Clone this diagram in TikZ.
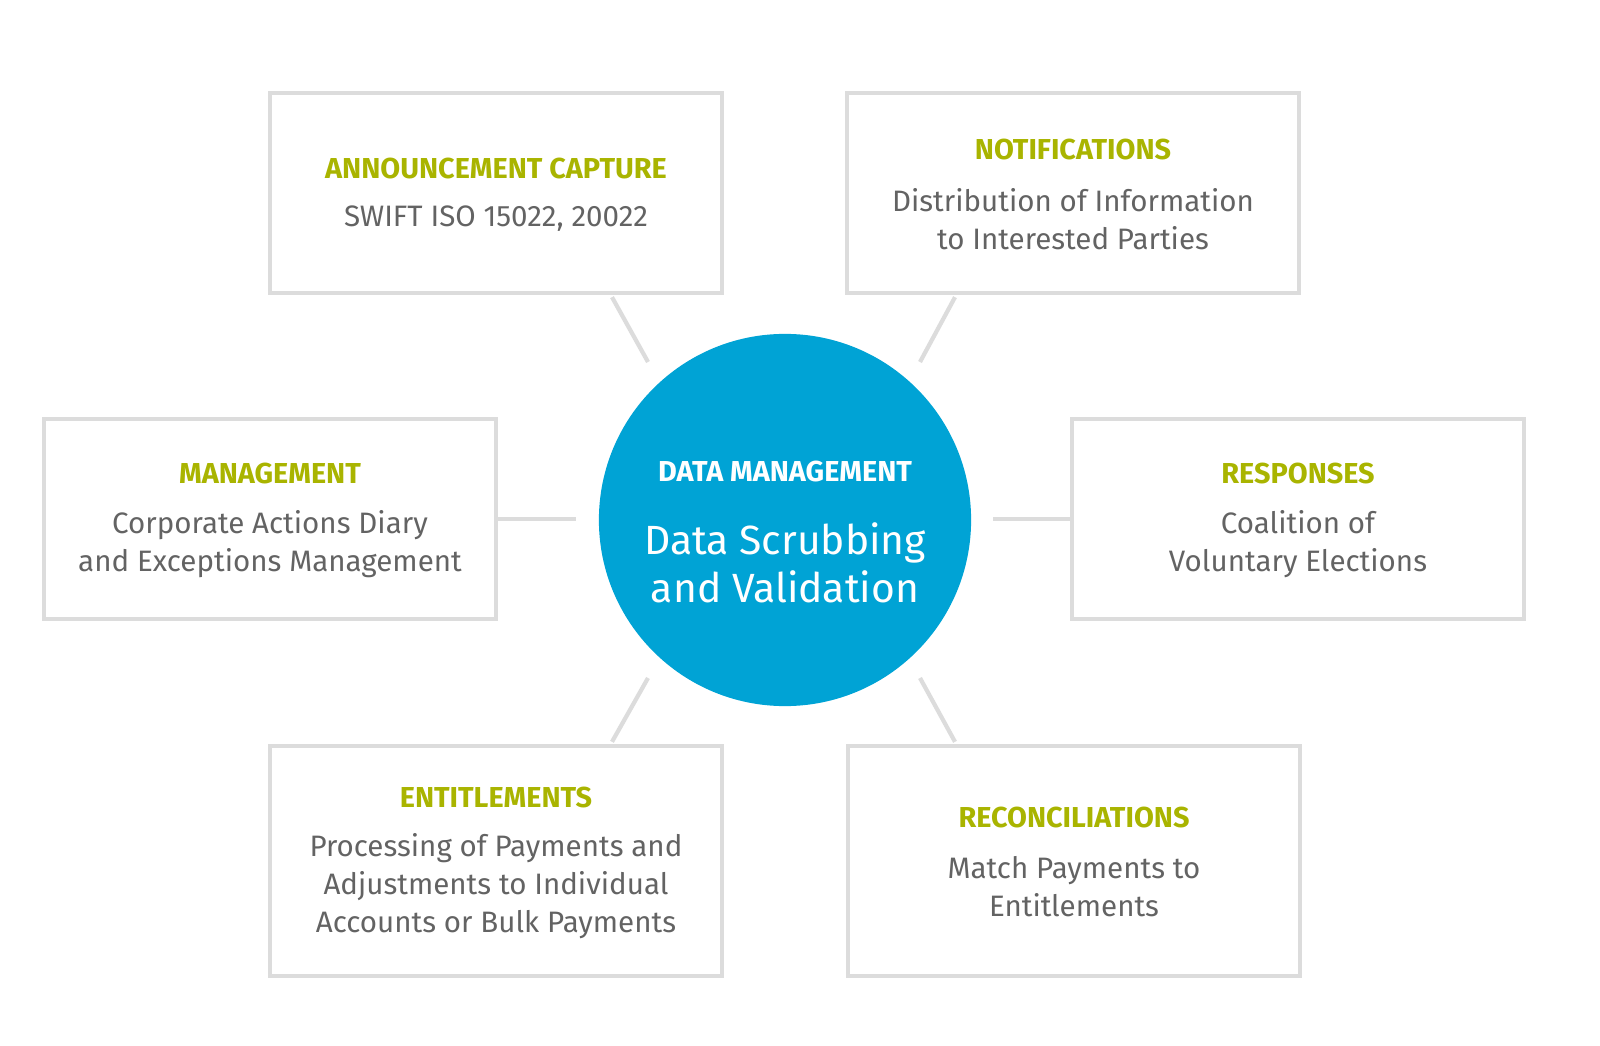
\documentclass[tikz,border=0pt]{standalone}
\usepackage{fontspec}
\setmainfont{Fira Sans}
\definecolor{headgreen}{HTML}{A9B400}
\definecolor{hubblue}{HTML}{00A3D5}
\definecolor{boxgray}{HTML}{DCDCDC}
\definecolor{txtgray}{HTML}{636363}
\begin{document}
\begin{tikzpicture}[x=0.01cm, y=-0.01cm]
\tikzstyle{every node} = [inner sep=0pt]
\tikzstyle{infobox} = [draw=boxgray, line width=1.2pt, minimum width=4.52cm, minimum height=2cm]
\tikzstyle{head} = [text=headgreen, font=\fontsize{8.2}{10}\selectfont\bfseries]
\tikzstyle{body} = [text=txtgray, align=center, font=\fontsize{8.4}{10.8}\selectfont]
\tikzstyle{link} = [draw=boxgray, line width=1.2pt]
\useasboundingbox (0,0) rectangle (1600,1046);
% hub
\node[circle, fill=hubblue, minimum size=3.72cm] (hub) at (785,520) {};
\node[text=white, font=\fontsize{8.2}{10}\selectfont\bfseries] (hubhead) at (785,472) {DATA MANAGEMENT};
\node[text=white, align=center, font=\fontsize{11.6}{13.6}\selectfont] (hubtext) at (785,563) {Data Scrubbing\\and Validation};
% boxes
\node[infobox] (capture) at (496,193) {};
\node[infobox] (notify) at (1073,193) {};
\node[infobox] (manage) at (270,519) {};
\node[infobox] (respond) at (1298,519) {};
\node[infobox, minimum height=2.3cm] (entitle) at (496,861) {};
\node[infobox, minimum height=2.3cm] (reconcile) at (1074,861) {};
% texts
\node[head] (capturehead) at (496,169) {ANNOUNCEMENT CAPTURE};
\node[body] (capturetext) at (496,219) {SWIFT ISO 15022, 20022};
\node[head] (notifyhead) at (1073,150) {NOTIFICATIONS};
\node[body] (notifytext) at (1073,219) {Distribution of Information\\to Interested Parties};
\node[head] (managehead) at (270,474) {MANAGEMENT};
\node[body] (managetext) at (270,544) {Corporate Actions Diary\\and Exceptions Management};
\node[head] (respondhead) at (1298,474) {RESPONSES};
\node[body] (respondtext) at (1298,544) {Coalition of\\Voluntary Elections};
\node[head] (entitlehead) at (496,798) {ENTITLEMENTS};
\node[body] (entitletext) at (496,886) {Processing of Payments and\\Adjustments to Individual\\Accounts or Bulk Payments};
\node[head] (reconcilehead) at (1074,818) {RECONCILIATIONS};
\node[body] (reconciletext) at (1074,887) {Match Payments to\\Entitlements};
% connector ends near the hub
\coordinate (c1) at (648,362);
\coordinate (c2) at (920,362);
\coordinate (c3) at (576,519);
\coordinate (c4) at (993,519);
\coordinate (c5) at (648,678);
\coordinate (c6) at (920,678);
\draw[link] (capture.south) ++(116,2) coordinate (a1) -- (c1);
\draw[link] (notify.south) ++(-118,2) coordinate (a2) -- (c2);
\draw[link] (manage.east) -- (c3);
\draw[link] (respond.west) -- (c4);
\draw[link] (entitle.north) ++(116,-2) coordinate (a5) -- (c5);
\draw[link] (reconcile.north) ++(-119,-2) coordinate (a6) -- (c6);
\end{tikzpicture}
\end{document}
